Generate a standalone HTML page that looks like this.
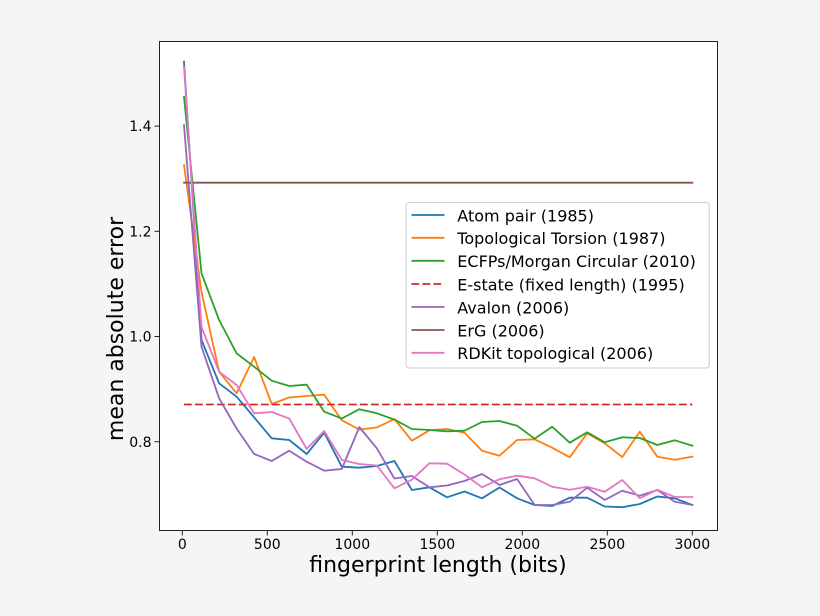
<!DOCTYPE html>
<html><head><meta charset="utf-8"><style>
html,body{margin:0;padding:0;background:#f5f5f5;}
svg{display:block;}
text{font-family:"DejaVu Sans","Liberation Sans",sans-serif;fill:#000;}
</style></head><body>
<svg width="820" height="616" viewBox="0 0 820 616" xmlns="http://www.w3.org/2000/svg">
<rect x="0" y="0" width="820" height="616" fill="#f5f5f5"/>
<rect x="159.5" y="41.5" width="558" height="489" fill="#ffffff"/>
<g fill="none" stroke-width="1.8" stroke-linejoin="round" stroke-linecap="square">
<polyline stroke="#1f77b4" points="184,61.7 201.5,340 219.1,383.3 236.6,396.7 254.1,417.3 271.7,438.3 289.2,440 306.7,454 324.2,432.7 341.8,466.7 359.3,467.7 376.8,466 394.4,461 411.9,490 429.4,487.3 447,497.3 464.5,491.5 482,498.3 499.5,487.5 517.1,498.3 534.6,505 552.1,506 569.7,497.7 587.2,497.7 604.7,506.5 622.3,507.2 639.8,504 657.3,496.5 674.8,498.3 692.4,505"/>
<polyline stroke="#ff7f0e" points="184,165 201.5,292 219.1,371.7 236.6,393.3 254.1,357 271.7,404 289.2,397.5 306.7,396 324.2,394.7 341.8,420.3 359.3,429.5 376.8,427.5 394.4,419 411.9,440.7 429.4,430.3 447,429 464.5,432.7 482,450.7 499.5,455.7 517.1,440 534.6,439.3 552.1,447.7 569.7,457.3 587.2,433.3 604.7,443.3 622.3,457 639.8,431.7 657.3,456.7 674.8,459.7 692.4,456.7"/>
<polyline stroke="#2ca02c" points="184,96.7 201.5,273.3 219.1,320 236.6,353.3 254.1,366.7 271.7,380.7 289.2,386 306.7,384.7 324.2,411.7 341.8,418.5 359.3,409.2 376.8,413.3 394.4,419.6 411.9,429 429.4,430 447,431.3 464.5,430.7 482,422 499.5,421 517.1,425.7 534.6,438.7 552.1,426.7 569.7,442.7 587.2,432.3 604.7,442.3 622.3,437.3 639.8,438 657.3,445 674.8,440.3 692.4,445.7"/>
<line x1="184" y1="404.5" x2="692.4" y2="404.5" stroke="#d62728" stroke-dasharray="7.7,3.3" stroke-linecap="butt"/>
<polyline stroke="#9467bd" points="184,125 201.5,346.7 219.1,398.3 236.6,428.5 254.1,454 271.7,461 289.2,450.7 306.7,461.7 324.2,470.7 341.8,469 359.3,427 376.8,448.3 394.4,478.5 411.9,476 429.4,487.3 447,485.5 464.5,481 482,474 499.5,485 517.1,479 534.6,505 552.1,505 569.7,501.7 587.2,487.7 604.7,500 622.3,490.7 639.8,495.7 657.3,490 674.8,501.7 692.4,505"/>
<line x1="184" y1="182.7" x2="692.4" y2="182.7" stroke="#8c564b"/>
<polyline stroke="#e377c2" points="184,66.7 201.5,327 219.1,371.7 236.6,385 254.1,413.3 271.7,412 289.2,418.5 306.7,449 324.2,431 341.8,460 359.3,464 376.8,465.5 394.4,488.3 411.9,479.7 429.4,463.3 447,463.7 464.5,474.5 482,487.3 499.5,479.2 517.1,475.7 534.6,478.3 552.1,486.7 569.7,489.7 587.2,486.7 604.7,491.7 622.3,480 639.8,498.3 657.3,489.7 674.8,497 692.4,497"/>
</g>
<rect x="159.5" y="41.5" width="558" height="489" fill="none" stroke="#222" stroke-width="1"/>
<g stroke="#222" stroke-width="1">
<line x1="182.3" y1="530.5" x2="182.3" y2="535.5"/>
<line x1="267.3" y1="530.5" x2="267.3" y2="535.5"/>
<line x1="352.3" y1="530.5" x2="352.3" y2="535.5"/>
<line x1="437.3" y1="530.5" x2="437.3" y2="535.5"/>
<line x1="522.3" y1="530.5" x2="522.3" y2="535.5"/>
<line x1="607.3" y1="530.5" x2="607.3" y2="535.5"/>
<line x1="692.3" y1="530.5" x2="692.3" y2="535.5"/>
<line x1="154.5" y1="441.7" x2="159.5" y2="441.7"/>
<line x1="154.5" y1="336.5" x2="159.5" y2="336.5"/>
<line x1="154.5" y1="231.3" x2="159.5" y2="231.3"/>
<line x1="154.5" y1="126.1" x2="159.5" y2="126.1"/>
</g>
<g font-size="14" text-anchor="middle">
<text x="182.3" y="549">0</text>
<text x="267.3" y="549">500</text>
<text x="352.3" y="549">1000</text>
<text x="437.3" y="549">1500</text>
<text x="522.3" y="549">2000</text>
<text x="607.3" y="549">2500</text>
<text x="692.3" y="549">3000</text>
</g>
<g font-size="14" text-anchor="end">
<text x="151.5" y="446.8">0.8</text>
<text x="151.5" y="341.6">1.0</text>
<text x="151.5" y="236.4">1.2</text>
<text x="151.5" y="131.2">1.4</text>
</g>
<text x="438" y="572" font-size="22" text-anchor="middle">fingerprint length (bits)</text>
<text x="0" y="0" font-size="22" text-anchor="middle" transform="translate(123,329) rotate(-90)">mean absolute error</text>
<rect x="406" y="202.5" width="303.3" height="165.5" rx="3" ry="3" fill="#ffffff" fill-opacity="0.85" stroke="#cccccc" stroke-width="1"/>
<g stroke-width="1.8" fill="none">
<line x1="411.5" y1="215" x2="444.5" y2="215" stroke="#1f77b4"/>
<line x1="411.5" y1="237.8" x2="444.5" y2="237.8" stroke="#ff7f0e"/>
<line x1="411.5" y1="260.8" x2="444.5" y2="260.8" stroke="#2ca02c"/>
<line x1="411.5" y1="284" x2="444.5" y2="284" stroke="#d62728" stroke-dasharray="7.7,3.3"/>
<line x1="411.5" y1="307" x2="444.5" y2="307" stroke="#9467bd"/>
<line x1="411.5" y1="330" x2="444.5" y2="330" stroke="#8c564b"/>
<line x1="411.5" y1="352.8" x2="444.5" y2="352.8" stroke="#e377c2"/>
</g>
<g font-size="16">
<text x="457.3" y="221.3">Atom pair (1985)</text>
<text x="457.3" y="244.1">Topological Torsion (1987)</text>
<text x="457.3" y="267.1">ECFPs/Morgan Circular (2010)</text>
<text x="457.3" y="290.3">E-state (fixed length) (1995)</text>
<text x="457.3" y="313.3">Avalon (2006)</text>
<text x="457.3" y="336.3">ErG (2006)</text>
<text x="457.3" y="359.1">RDKit topological (2006)</text>
</g>
</svg>
</body></html>
